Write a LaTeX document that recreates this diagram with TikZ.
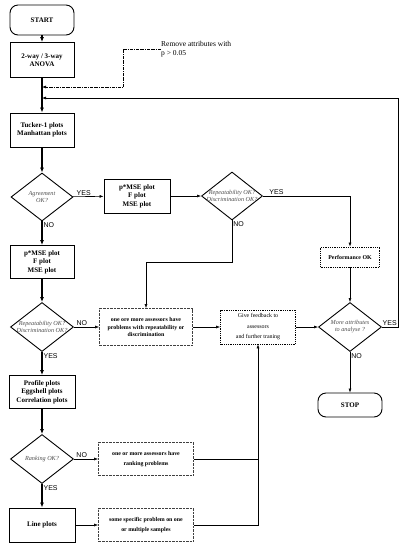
\documentclass[tikz,border=0pt]{standalone}
\usepackage{fontspec}
\setmainfont{Liberation Serif}
\newfontfamily\labelfont{Liberation Sans}
\usetikzlibrary{shapes.geometric,arrows.meta}
\begin{document}
\begin{tikzpicture}[x=1pt,y=-1pt,
		box/.style={draw,line width=.9pt,align=center,inner sep=1pt,font=\fontsize{7}{8.5}\selectfont\bfseries},
		term/.style={box,rounded corners=8pt},
		decide/.style={draw,diamond,line width=.9pt,inner sep=0pt,minimum width=63pt,minimum height=49pt},
		dtext/.style={align=center,text=black!70,font=\fontsize{6.2}{7}\selectfont\itshape},
		issue/.style={draw=black!75,line width=.8pt,dash pattern=on 2.5pt off 1pt,align=center,font=\fontsize{5.9}{10}\selectfont\bfseries},
		note/.style={draw,line width=.8pt,densely dotted,align=center,font=\fontsize{5.9}{10.5}\selectfont},
		flow/.style={-{Latex[length=5pt,width=4pt]},line width=1.2pt},
		link/.style={-{Latex[length=4pt,width=3pt]},line width=.6pt},
		yn/.style={inner sep=1pt,font=\labelfont\fontsize{7}{8}\selectfont}]
	\useasboundingbox (0,0) rectangle (409,550);
	% left column
	\node[term,minimum width=64pt,minimum height=30pt] (start) at (42,20) {START};
	\node[box,minimum width=64pt,minimum height=35pt] (anova) at (42,60) {2-way / 3-way\\ANOVA};
	\node[box,minimum width=64pt,minimum height=34pt] (tucker) at (42,130) {Tucker-1 plots\\Manhattan plots};
	\node[decide,minimum width=62pt,minimum height=48pt,label={[dtext]center:Agreement\\OK?}] (agree) at (42,197) {};
	\node[box,minimum width=64pt,minimum height=33pt] (mseb) at (42,262) {p*MSE plot\\F plot\\MSE plot};
	\node[decide,label={[dtext]center:Repeatability OK?\\Discrimination OK?}] (repb) at (42,327) {};
	\node[box,minimum width=66pt,minimum height=33pt] (profile) at (42,392) {Profile plots\\Eggshell plots\\Correlation plots};
	\node[decide,label={[dtext]center:Ranking OK?}] (rank) at (42,459) {};
	\node[box,minimum width=66pt,minimum height=34pt] (lineplots) at (42,525) {Line plots};
	% upper branch
	\node[box,minimum width=66pt,minimum height=34pt] (msea) at (137,196) {p*MSE plot\\F plot\\MSE plot};
	\node[decide,minimum width=61pt,minimum height=48pt,label={[dtext]center:Repeatability OK?\\Discrimination OK?}] (repa) at (232,196) {};
	\node[note,font=\fontsize{5.9}{7}\selectfont\bfseries,minimum width=59pt,minimum height=20pt] (perf) at (350,257) {Performance OK};
	\node[decide,label={[dtext]center:More attributes\\to analyse ?}] (more) at (350,327) {};
	\node[term,minimum width=64pt,minimum height=24pt] (stop) at (350,405) {STOP};
	% problems and feedback
	\node[issue,font=\fontsize{5.9}{7.5}\selectfont\bfseries,minimum width=93pt,minimum height=37pt] (probrep) at (146,327) {one ore more assessors have\\problems with repeatability or\\discrimination};
	\node[note,minimum width=75pt,minimum height=34pt] (feedback) at (258,327) {Give feedback to\\assessors\\and further traning};
	\node[issue,minimum width=95pt,minimum height=33pt] (probrank) at (146,459) {one or more assessors have\\ranking problems};
	\node[issue,minimum width=95pt,minimum height=33pt] (probspec) at (146,525) {some specific problem on one\\or multiple samples};
	\node[anchor=west,align=left,inner sep=0pt,font=\fontsize{7.5}{9}\selectfont] (remove) at (161,49) {Remove attributes with\\p > 0.05};
	\coordinate (rmv) at (42,87);
	\coordinate (loop) at (42,98);
	% connectors
	\draw[flow] (start) -- (anova);
	\draw[flow] (anova) -- (tucker);
	\draw[link,densely dashdotted] (remove.west) -- ++(-38,0) |- (rmv);
	\draw[link] (more.east) -- (398,327) node[yn,anchor=south east,pos=1] {YES} |- (loop);
	\draw[flow] (tucker) -- (agree);
	\draw[link] (agree) -- node[yn,above,pos=.35] {YES} (msea);
	\draw[link] (msea) -- (repa);
	\draw[link] (repa.east) -| node[yn,anchor=south west,pos=.03] {YES} (perf.north);
	\draw[link] (perf) -- (more);
	\draw[link] (repa.south) -- node[yn,anchor=north west,pos=0] {NO} ++(0,42) -| (probrep.north);
	\draw[flow] (agree) -- node[yn,anchor=north west,pos=0] {NO} (mseb);
	\draw[flow] (mseb) -- (repb);
	\draw[link] (repb) -- node[yn,anchor=south west,pos=.05] {NO} (probrep);
	\draw[link] (probrep) -- (feedback);
	\draw[link] (feedback) -- (more);
	\draw[link] (more) -- node[yn,anchor=north west,pos=0] {NO} (stop);
	\draw[flow] (repb) -- node[yn,anchor=north west,pos=0] {YES} (profile);
	\draw[flow] (profile) -- (rank);
	\draw[link] (rank) -- node[yn,anchor=south west,pos=.05] {NO} (probrank);
	\draw[flow] (rank) -- node[yn,anchor=north west,pos=0] {YES} (lineplots);
	\draw[link] (lineplots) -- (probspec);
	\draw[line width=.6pt] (probrank.east) -- (probrank.east -| feedback.south);
	\draw[link] (probspec.east) -| (feedback.south);
\end{tikzpicture}
\end{document}
